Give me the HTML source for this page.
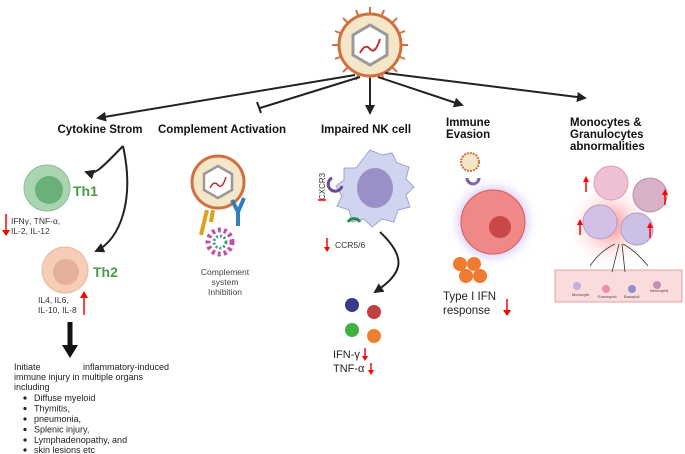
<!DOCTYPE html><html><head><style>body{margin:0;background:#fff}svg{display:block}text{font-family:"Liberation Sans",sans-serif}</style></head><body>
<svg width="685" height="454" viewBox="0 0 685 454" xmlns="http://www.w3.org/2000/svg">
<defs>
<marker id="a" markerWidth="5" markerHeight="5" refX="4" refY="2.5" orient="auto"><path d="M0,0L5,2.5L0,5z" fill="#222"/></marker>
<radialGradient id="glow"><stop offset="0.5" stop-color="#a070f0" stop-opacity="0.8"/><stop offset="1" stop-color="#fff" stop-opacity="0"/></radialGradient>
<radialGradient id="rg"><stop offset="0" stop-color="#ff6060" stop-opacity="0.8"/><stop offset="1" stop-color="#fff" stop-opacity="0"/></radialGradient>
</defs>
<g transform="translate(370,45)">
<g stroke="#d07040" stroke-width="2">
<line x1="0" y1="-38" x2="0" y2="38"/><line x1="-38" y1="0" x2="38" y2="0"/><line x1="-27" y1="-27" x2="27" y2="27"/><line x1="-27" y1="27" x2="27" y2="-27"/>
<line x1="-14" y1="-35" x2="14" y2="35"/><line x1="14" y1="-35" x2="-14" y2="35"/><line x1="-35" y1="-14" x2="35" y2="14"/><line x1="-35" y1="14" x2="35" y2="-14"/></g>
<circle r="31" fill="#f6e6c8" stroke="#d07040" stroke-width="3"/>
<polygon points="0,-20 17,-10 17,10 0,20 -17,10 -17,-10" fill="#fff" stroke="#999" stroke-width="3"/>
<path d="M-10,8 q5,-10 10,-4 t10,-10" stroke="#c03030" stroke-width="2" fill="none"/></g>
<g stroke="#222" stroke-width="2" fill="none">
<line x1="355" y1="75" x2="98" y2="118" marker-end="url(#a)"/>
<line x1="360" y1="77" x2="260" y2="108"/><line x1="257" y1="102" x2="261" y2="113"/>
<line x1="370" y1="78" x2="370" y2="113" marker-end="url(#a)"/>
<line x1="378" y1="77" x2="462" y2="105" marker-end="url(#a)"/>
<line x1="385" y1="73" x2="585" y2="98" marker-end="url(#a)"/>
<path d="M123,146 C100,170 95,175 86,172" marker-end="url(#a)"/>
<path d="M123,146 C135,200 120,240 96,251" marker-end="url(#a)"/>
<path d="M380,232 C410,260 400,275 375,292" marker-end="url(#a)"/>
</g>
<g font-size="11.5" font-weight="bold" fill="#111">
<text x="100" y="133" text-anchor="middle">Cytokine Strom</text>
<text x="222" y="133" text-anchor="middle">Complement Activation</text>
<text x="366" y="133" text-anchor="middle">Impaired NK cell</text>
<text x="446" y="126">Immune</text><text x="446" y="138">Evasion</text>
<text x="570" y="126">Monocytes &amp;</text><text x="570" y="138">Granulocytes</text><text x="570" y="150">abnormalities</text>
</g>
<circle cx="47" cy="188" r="23" fill="#a8d5b0" stroke="#8cbf95"/><circle cx="49" cy="190" r="14" fill="#6bb07b"/>
<text x="73" y="196" font-size="14" font-weight="bold" fill="#4a9a4a">Th1</text>
<text x="11" y="224" font-size="8.5" fill="#333">IFNγ, TNF-α,</text><text x="11" y="234" font-size="8.5" fill="#333">IL-2, IL-12</text>
<line x1="6" y1="214" x2="6" y2="232" stroke="red" stroke-width="1.5"/><path d="M2,230L6,236L10,230z" fill="red"/>
<circle cx="65" cy="270" r="23" fill="#f8cdb8" stroke="#e8b8a0"/><circle cx="66" cy="272" r="13" fill="#e5b09a"/>
<text x="93" y="277" font-size="14" font-weight="bold" fill="#4a9a4a">Th2</text>
<text x="38" y="303" font-size="8.5" fill="#333">IL4, IL6,</text><text x="38" y="313" font-size="8.5" fill="#333">IL-10, IL-8</text>
<line x1="84" y1="296" x2="84" y2="315" stroke="red" stroke-width="1.5"/><path d="M80,298L84,291L88,298z" fill="red"/>
<line x1="70" y1="322" x2="70" y2="347" stroke="#111" stroke-width="5"/><path d="M62,345L70,358L78,345z" fill="#111"/>
<g font-size="9" fill="#222">
<text x="14" y="370">Initiate</text><text x="83" y="370">inflammatory-induced</text>
<text x="14" y="380">immune injury in multiple organs</text><text x="14" y="390">including</text>
<text x="34" y="401">Diffuse myeloid</text><text x="34" y="411.5">Thymitis,</text><text x="34" y="422">pneumonia,</text><text x="34" y="432.5">Splenic injury,</text><text x="34" y="443">Lymphadenopathy, and</text><text x="34" y="453">skin lesions etc</text>
<g fill="#222"><circle cx="25" cy="398" r="1.6"/><circle cx="25" cy="408.5" r="1.6"/><circle cx="25" cy="419" r="1.6"/><circle cx="25" cy="429.5" r="1.6"/><circle cx="25" cy="440" r="1.6"/><circle cx="25" cy="450" r="1.6"/></g>
</g>
<g transform="translate(218,182)">
<circle r="26" fill="#f6e6c8" stroke="#d07040" stroke-width="3"/>
<polygon points="0,-16 14,-8 14,8 0,16 -14,8 -14,-8" fill="#fff" stroke="#999" stroke-width="2.5"/>
<path d="M-8,6 q4,-8 8,-3 t8,-8" stroke="#c03030" stroke-width="1.5" fill="none"/></g>
<path d="M207,210 l-6,25 M213,210 l-2,12" stroke="#e0a020" stroke-width="4"/>
<path d="M232,200 l6,12 l0,14 M244,198 l-6,14" stroke="#3080c0" stroke-width="4" fill="none"/>
<circle cx="220" cy="242" r="12" fill="none" stroke="#c050a0" stroke-width="5" stroke-dasharray="3 3"/>
<circle cx="220" cy="242" r="6" fill="none" stroke="#40a080" stroke-width="3" stroke-dasharray="2 2"/>
<g font-size="8.5" fill="#444" text-anchor="middle"><text x="225" y="275">Complement</text><text x="225" y="285">system</text><text x="225" y="295">Inhibition</text></g>
<path d="M370,150 l12,5 l10,-2 l5,10 l12,4 l-3,12 l8,8 l-8,8 l4,12 l-12,3 l-4,12 l-12,-3 l-10,8 l-8,-8 l-12,3 l-3,-12 l-12,-4 l5,-10 l-6,-10 l8,-6 l0,-12 l12,0z" fill="#d0d4ee" stroke="#a0a4d0"/>
<ellipse cx="375" cy="188" rx="18" ry="20" fill="#9b8fc8"/>
<path d="M332,178 a7,7 0 1 0 10,8" stroke="#6a4a9a" stroke-width="3" fill="none"/>
<path d="M348,222 a7,7 0 0 1 12,0" stroke="#2a8a4a" stroke-width="3" fill="none"/>
<text x="325" y="190" font-size="8" fill="#333" transform="rotate(-90 325 190)" dx="-10">CXCR3</text>
<line x1="318" y1="200" x2="326" y2="200" stroke="red" stroke-width="1.5"/>
<text x="335" y="248" font-size="8.5" fill="#333">CCR5/6</text>
<line x1="327" y1="238" x2="327" y2="249" stroke="red" stroke-width="1.5"/><path d="M324,247L327,252L330,247z" fill="red"/>
<circle cx="352" cy="305" r="7" fill="#3a3a8a"/><circle cx="374" cy="312" r="7" fill="#c04040"/>
<circle cx="352" cy="330" r="7" fill="#40b040"/><circle cx="374" cy="336" r="7" fill="#f08030"/>
<text x="333" y="358" font-size="11" fill="#222">IFN-γ</text><text x="333" y="372" font-size="11" fill="#222">TNF-α</text>
<line x1="365" y1="348" x2="365" y2="358" stroke="red" stroke-width="1.5"/><path d="M362,356L365,361L368,356z" fill="red"/>
<line x1="371" y1="363" x2="371" y2="372" stroke="red" stroke-width="1.5"/><path d="M368,370L371,375L374,370z" fill="red"/>
<circle cx="470" cy="162" r="9" fill="#f6e6c8" stroke="#d07040" stroke-width="2" stroke-dasharray="2 1"/>
<path d="M467,178 a6,6 0 0 0 12,0" stroke="#7a5aa0" stroke-width="3" fill="none"/>
<circle cx="493" cy="222" r="46" fill="url(#glow)"/>
<circle cx="493" cy="222" r="32" fill="#f08888" stroke="#d06060"/>
<circle cx="500" cy="227" r="11" fill="#c84848"/>
<g fill="#f07a30"><circle cx="460" cy="264" r="7"/><circle cx="474" cy="264" r="7"/><circle cx="466" cy="276" r="7"/><circle cx="480" cy="276" r="7"/></g>
<text x="443" y="300" font-size="11.5" fill="#222">Type I IFN</text><text x="443" y="314" font-size="11.5" fill="#222">response</text>
<line x1="507" y1="299" x2="507" y2="312" stroke="red" stroke-width="1.5"/><path d="M503,310L507,316L511,310z" fill="red"/>
<circle cx="610" cy="225" r="45" fill="url(#rg)"/>
<circle cx="611" cy="183" r="17" fill="#efc0d4" stroke="#d8a0b8"/>
<circle cx="650" cy="195" r="17" fill="#d8b0c8" stroke="#b890a8"/>
<circle cx="600" cy="222" r="17" fill="#d4c0e4" stroke="#b0a0c8"/>
<circle cx="637" cy="229" r="16" fill="#ccc0e4" stroke="#a8a0c8"/>
<g stroke="red" stroke-width="1.5"><line x1="586" y1="180" x2="586" y2="192"/><line x1="665" y1="193" x2="665" y2="205"/><line x1="580" y1="223" x2="580" y2="235"/><line x1="650" y1="226" x2="650" y2="238"/></g>
<g fill="red"><path d="M583,182L586,176L589,182z"/><path d="M662,195L665,189L668,195z"/><path d="M577,225L580,219L583,225z"/><path d="M647,228L650,222L653,228z"/></g>
<rect x="555" y="270" width="127" height="32" fill="#fbdcdc" stroke="#e6a0a0"/>
<g stroke="#333" stroke-width="0.8" fill="none"><path d="M590,266 q10,-15 25,-22"/><path d="M612,272 l7,-28"/><path d="M625,272 l-3,-28"/><path d="M648,266 q-12,-15 -25,-22"/></g>
<g fill="#c0b0e0"><circle cx="577" cy="286" r="4"/><circle cx="606" cy="289" r="4" fill="#e890b0"/><circle cx="632" cy="289" r="4" fill="#9090d0"/><circle cx="657" cy="285" r="4" fill="#c890b0"/></g>
<g font-size="4" fill="#444"><text x="572" y="296">Monocyte</text><text x="598" y="298">Eosinophil</text><text x="624" y="298">Basophil</text><text x="650" y="292">Neutrophil</text></g>
</svg></body></html>
